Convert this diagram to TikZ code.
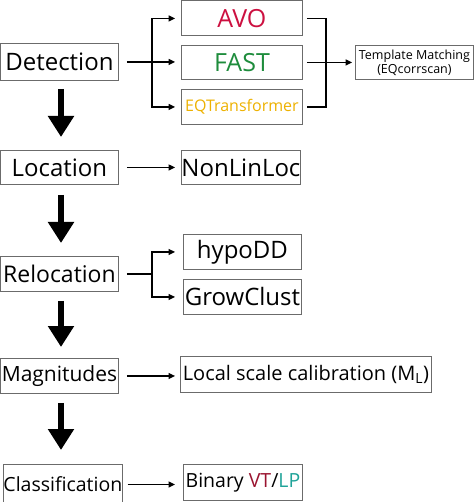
\documentclass[tikz,border=0pt]{standalone}
\usepackage{fontspec}
\setmainfont{Open Sans}
\usetikzlibrary{arrows.meta}
\definecolor{boxgray}{HTML}{6B6B6B}
\definecolor{avored}{HTML}{CC1040}
\definecolor{fastgreen}{HTML}{1E8C3C}
\definecolor{eqtgold}{HTML}{EDB100}
\definecolor{vtred}{HTML}{9A1430}
\definecolor{lpteal}{HTML}{1FA399}
\tikzset{
  box/.style={draw=boxgray, line width=0.9pt, inner sep=0pt, anchor=north west, align=center},
  fs/.style={font=\fontsize{#1}{#1}\selectfont},
  ln/.style={line width=1.3pt, black},
  arr/.style={line width=1.3pt, black, -{Triangle[length=6.5pt,width=6pt]}},
  bigarr/.style={line width=6pt, black, -{Triangle[length=21pt,width=25pt]}}
}
\begin{document}
\begin{tikzpicture}[x=1pt,y=-1pt]
\useasboundingbox (0,0) rectangle (474,502);
% left column
\node[box, fs=24, minimum width=118pt, minimum height=37pt] (det) at (0,43) {Detection};
\node[box, fs=24, minimum width=118pt, minimum height=34pt] (loc) at (0,150) {Location};
\node[box, fs=23, minimum width=118pt, minimum height=35pt] (rel) at (0,256) {Relocation};
\node[box, fs=21, minimum width=118pt, minimum height=35pt] (mag) at (0,358) {Magnitudes};
\node[box, fs=19.5, minimum width=118pt, minimum height=40pt] (cls) at (3,464) {Classification};
% detection methods
\node[box, fs=25, text=avored, minimum width=121pt, minimum height=35pt] (avo) at (181,0.5) {AVO};
\node[box, fs=25, text=fastgreen, minimum width=121pt, minimum height=34pt] (fast) at (181,45) {FAST};
\node[box, fs=16, text=eqtgold, minimum width=121pt, minimum height=35pt] (eqt) at (181,89) {EQTransformer};
\node[box, font=\fontsize{12.5}{14}\selectfont, minimum width=118pt, minimum height=34pt] (tm) at (355,45) {Template Matching\\(EQcorrscan)};
% other methods
\node[box, fs=24, minimum width=118pt, minimum height=34pt] (nll) at (181,150) {NonLinLoc};
\node[box, fs=24, minimum width=118pt, minimum height=35pt] (hdd) at (183,234) {hypoDD};
\node[box, fs=24, minimum width=118pt, minimum height=35pt] (gc) at (183,279) {GrowClust};
\node[box, fs=20, minimum width=251pt, minimum height=36pt] (lsc) at (180,356) {Local scale calibration (M\textsubscript{L})};
\node[box, fs=19.5, minimum width=119pt, minimum height=36pt] (bin) at (183,464) {Binary \textcolor{vtred}{VT}/\textcolor{lpteal}{LP}};
% splits and merges
\coordinate (s1) at (152,0);
\coordinate (s2) at (326,0);
\coordinate (s3) at (152,0);
\coordinate (ax) at (61,0);
\draw[arr] ([xshift=8pt]det.east) -- ([xshift=-6pt]det.east -| fast.west);
\draw[arr] (s1 |- det.east) -- (s1 |- avo.west) -- ([xshift=-6pt]avo.west);
\draw[arr] (s1 |- det.east) -- (s1 |- eqt.west) -- ([xshift=-6pt]eqt.west);
\draw[ln] ([xshift=4pt]avo.east) -- (s2 |- avo.east) -- (s2 |- eqt.east) -- ([xshift=4pt]eqt.east);
\draw[arr] ([xshift=4pt]fast.east) -- ([xshift=-3pt]fast.east -| tm.west);
\draw[arr] ([xshift=8pt]loc.east) -- ([xshift=-6pt]loc.east -| nll.west);
\draw[ln] ([xshift=8pt]rel.east) -- (s3 |- rel.east);
\draw[arr] (s3 |- rel.east) -- (s3 |- hdd.west) -- ([xshift=-8pt]hdd.west);
\draw[arr] (s3 |- rel.east) -- (s3 |- gc.west) -- ([xshift=-8pt]gc.west);
\draw[arr] ([xshift=8pt]mag.east) -- ([xshift=-5pt]mag.east -| lsc.west);
\draw[arr] ([xshift=5pt]cls.east) -- ([xshift=-8pt]cls.east -| bin.west);
% big arrows
\draw[bigarr] ([yshift=-8pt]ax |- det.south) -- ([yshift=13pt]ax |- loc.north);
\draw[bigarr] ([yshift=-10pt]ax |- loc.south) -- ([yshift=13pt]ax |- rel.north);
\draw[bigarr] ([yshift=-9pt]ax |- rel.south) -- ([yshift=11pt]ax |- mag.north);
\draw[bigarr] ([yshift=-9pt]ax |- mag.south) -- ([yshift=14pt]ax |- cls.north);
\end{tikzpicture}
\end{document}
